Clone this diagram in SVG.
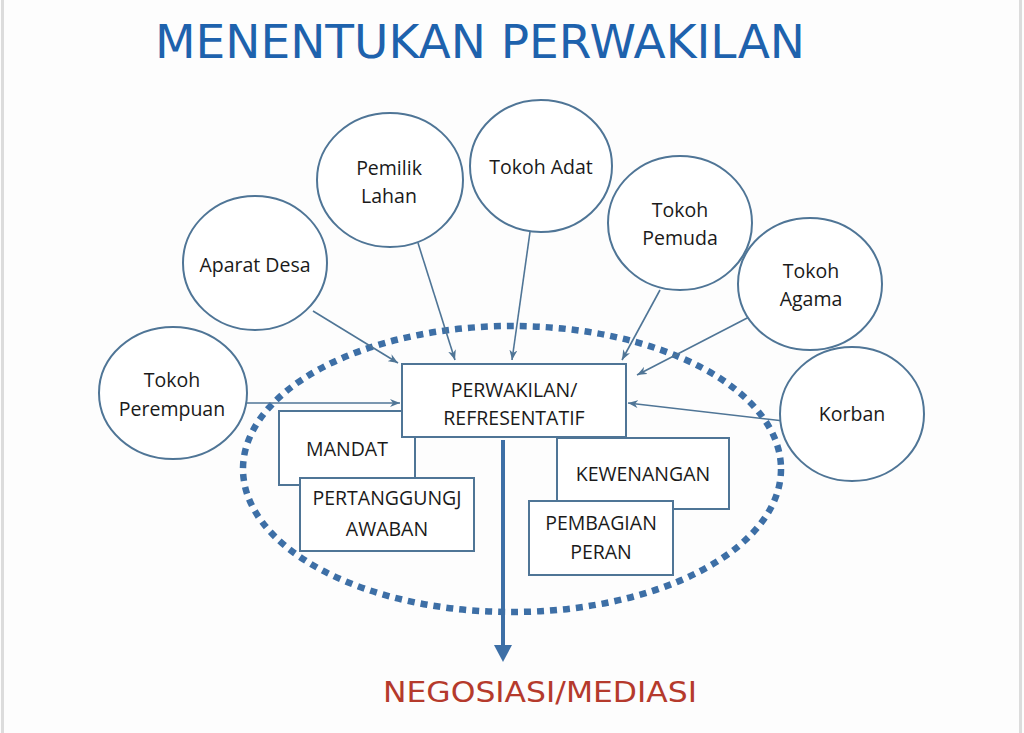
<svg xmlns="http://www.w3.org/2000/svg" width="1024" height="733" viewBox="0 0 1024 733">
<defs>
<style>
.node ellipse{fill:#fff;stroke:#4f7596;stroke-width:2}
.box rect{fill:#fff;stroke:#4f7596;stroke-width:2}
.lbl{font-family:"Open Sans","Liberation Sans",sans-serif;font-size:19.5px;fill:#1a1a1a;text-anchor:middle}
.conn line{stroke:#4f7596;stroke-width:1.6;fill:none}
.title{font-family:"DejaVu Sans",sans-serif;font-size:46px;fill:#1e62ad}
.sub{font-family:"DejaVu Sans",sans-serif;font-size:28px;fill:#b53a2c}
</style>
<marker id="ah" viewBox="0 0 10 8" refX="10" refY="4" markerWidth="10" markerHeight="8" markerUnits="userSpaceOnUse" orient="auto">
<path d="M0,0 L10,4 L0,8 L3,4 Z" fill="#4f7596"/>
</marker>
</defs>
<rect width="1024" height="733" fill="#fdfdfd"/>
<rect x="1" y="0" width="3" height="733" fill="#dcdcdc"/>
<rect x="1019" y="0" width="3" height="733" fill="#dcdcdc"/>
<text class="title" x="155" y="58" textLength="650" lengthAdjust="spacingAndGlyphs">MENENTUKAN PERWAKILAN</text>

<ellipse cx="512" cy="469" rx="269" ry="143" fill="none" stroke="#3d6fa6" stroke-width="6.5" stroke-dasharray="7 6"/>

<g class="conn">
<line x1="247" y1="403" x2="400" y2="403" marker-end="url(#ah)"/>
<line x1="313" y1="311" x2="398" y2="363" marker-end="url(#ah)"/>
<line x1="418" y1="243" x2="455" y2="360" marker-end="url(#ah)"/>
<line x1="530" y1="232" x2="512" y2="360" marker-end="url(#ah)"/>
<line x1="660" y1="290" x2="622" y2="360" marker-end="url(#ah)"/>
<line x1="753" y1="315" x2="637" y2="375" marker-end="url(#ah)"/>
<line x1="784" y1="421" x2="628" y2="403" marker-end="url(#ah)"/>
<line x1="503" y1="440" x2="503" y2="648" style="stroke:#3d6fa6;stroke-width:4"/>
<path d="M494,645 L512,645 L503,662 Z" fill="#3d6fa6"/>
</g>

<g id="n-perempuan" class="node"><ellipse cx="173" cy="393" rx="74" ry="66"/><text class="lbl" x="172" y="387">Tokoh</text><text class="lbl" x="172" y="416">Perempuan</text></g>
<g id="n-aparat" class="node"><ellipse cx="255" cy="263" rx="72" ry="67"/><text class="lbl" x="255" y="272">Aparat Desa</text></g>
<g id="n-pemilik" class="node"><ellipse cx="390" cy="180" rx="73" ry="67"/><text class="lbl" x="389" y="175">Pemilik</text><text class="lbl" x="389" y="203">Lahan</text></g>
<g id="n-adat" class="node"><ellipse cx="541" cy="166" rx="71" ry="66"/><text class="lbl" x="541" y="174">Tokoh Adat</text></g>
<g id="n-pemuda" class="node"><ellipse cx="680" cy="223" rx="72" ry="67"/><text class="lbl" x="680" y="217">Tokoh</text><text class="lbl" x="680" y="245">Pemuda</text></g>
<g id="n-agama" class="node"><ellipse cx="810" cy="284" rx="72" ry="66"/><text class="lbl" x="811" y="278">Tokoh</text><text class="lbl" x="811" y="306">Agama</text></g>
<g id="n-korban" class="node"><ellipse cx="852" cy="414" rx="72" ry="67"/><text class="lbl" x="852" y="421">Korban</text></g>

<g id="b-mandat" class="box"><rect x="279" y="411" width="136" height="74"/><text class="lbl" x="347" y="456">MANDAT</text></g>
<g id="b-perwakilan" class="box"><rect x="402" y="364" width="224" height="73"/><text class="lbl" x="514" y="397">PERWAKILAN/</text><text class="lbl" x="514" y="425">REFRESENTATIF</text></g>
<g id="b-pertanggungjawaban" class="box"><rect x="300" y="478" width="174" height="73"/><text class="lbl" x="387" y="505">PERTANGGUNGJ</text><text class="lbl" x="387" y="536">AWABAN</text></g>
<g id="b-kewenangan" class="box"><rect x="557" y="438" width="172" height="71"/><text class="lbl" x="643" y="481">KEWENANGAN</text></g>
<g id="b-pembagian" class="box"><rect x="529" y="501" width="144" height="74"/><text class="lbl" x="601" y="530">PEMBAGIAN</text><text class="lbl" x="601" y="559">PERAN</text></g>

<text class="sub" x="383" y="702" textLength="314" lengthAdjust="spacingAndGlyphs">NEGOSIASI/MEDIASI</text>
</svg>
